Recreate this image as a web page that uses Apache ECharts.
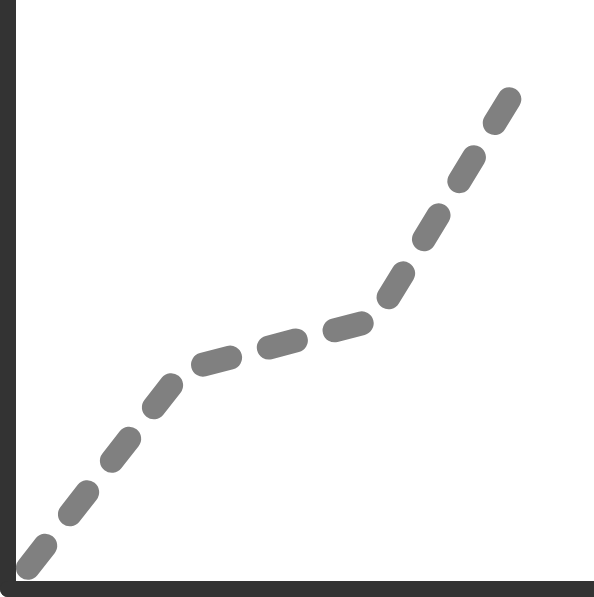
<!DOCTYPE html>
<html>
<head>
<script src="https://cdn.jsdelivr.net/npm/echarts@6/dist/echarts.min.js"></script>
<style>html,body{margin:0;padding:0;background:#fff;}</style>
</head>
<body>
<div id="main" style="width:594px;height:597px;"></div>
<script>
var xValues = [3.4, 29.9, 62.6, 86.0];
var yValues = [3.6, 37.2, 45.7, 83.9];

var chart = echarts.init(document.getElementById('main'));
var axisLine = { show: true, lineStyle: { color: '#333333', width: 16, cap: 'round' } };
chart.setOption({
  animation: false,
  grid: { left: 8, right: 0, top: 0, bottom: 8 },
  xAxis: { type: 'value', min: 0, max: 100, axisLine: axisLine, axisTick: { show: false }, axisLabel: { show: false }, splitLine: { show: false } },
  yAxis: { type: 'value', min: 0, max: 100, axisLine: axisLine, axisTick: { show: false }, axisLabel: { show: false }, splitLine: { show: false } },
  series: [{
    type: 'line',
    data: xValues.map(function (x, i) { return [x, yValues[i]]; }),
    symbol: 'none',
    smooth: false,
    z: 1,
    lineStyle: { color: '#808080', width: 24, type: [28, 40], cap: 'round', join: 'round' }
  }]
});
</script>
</body>
</html>
